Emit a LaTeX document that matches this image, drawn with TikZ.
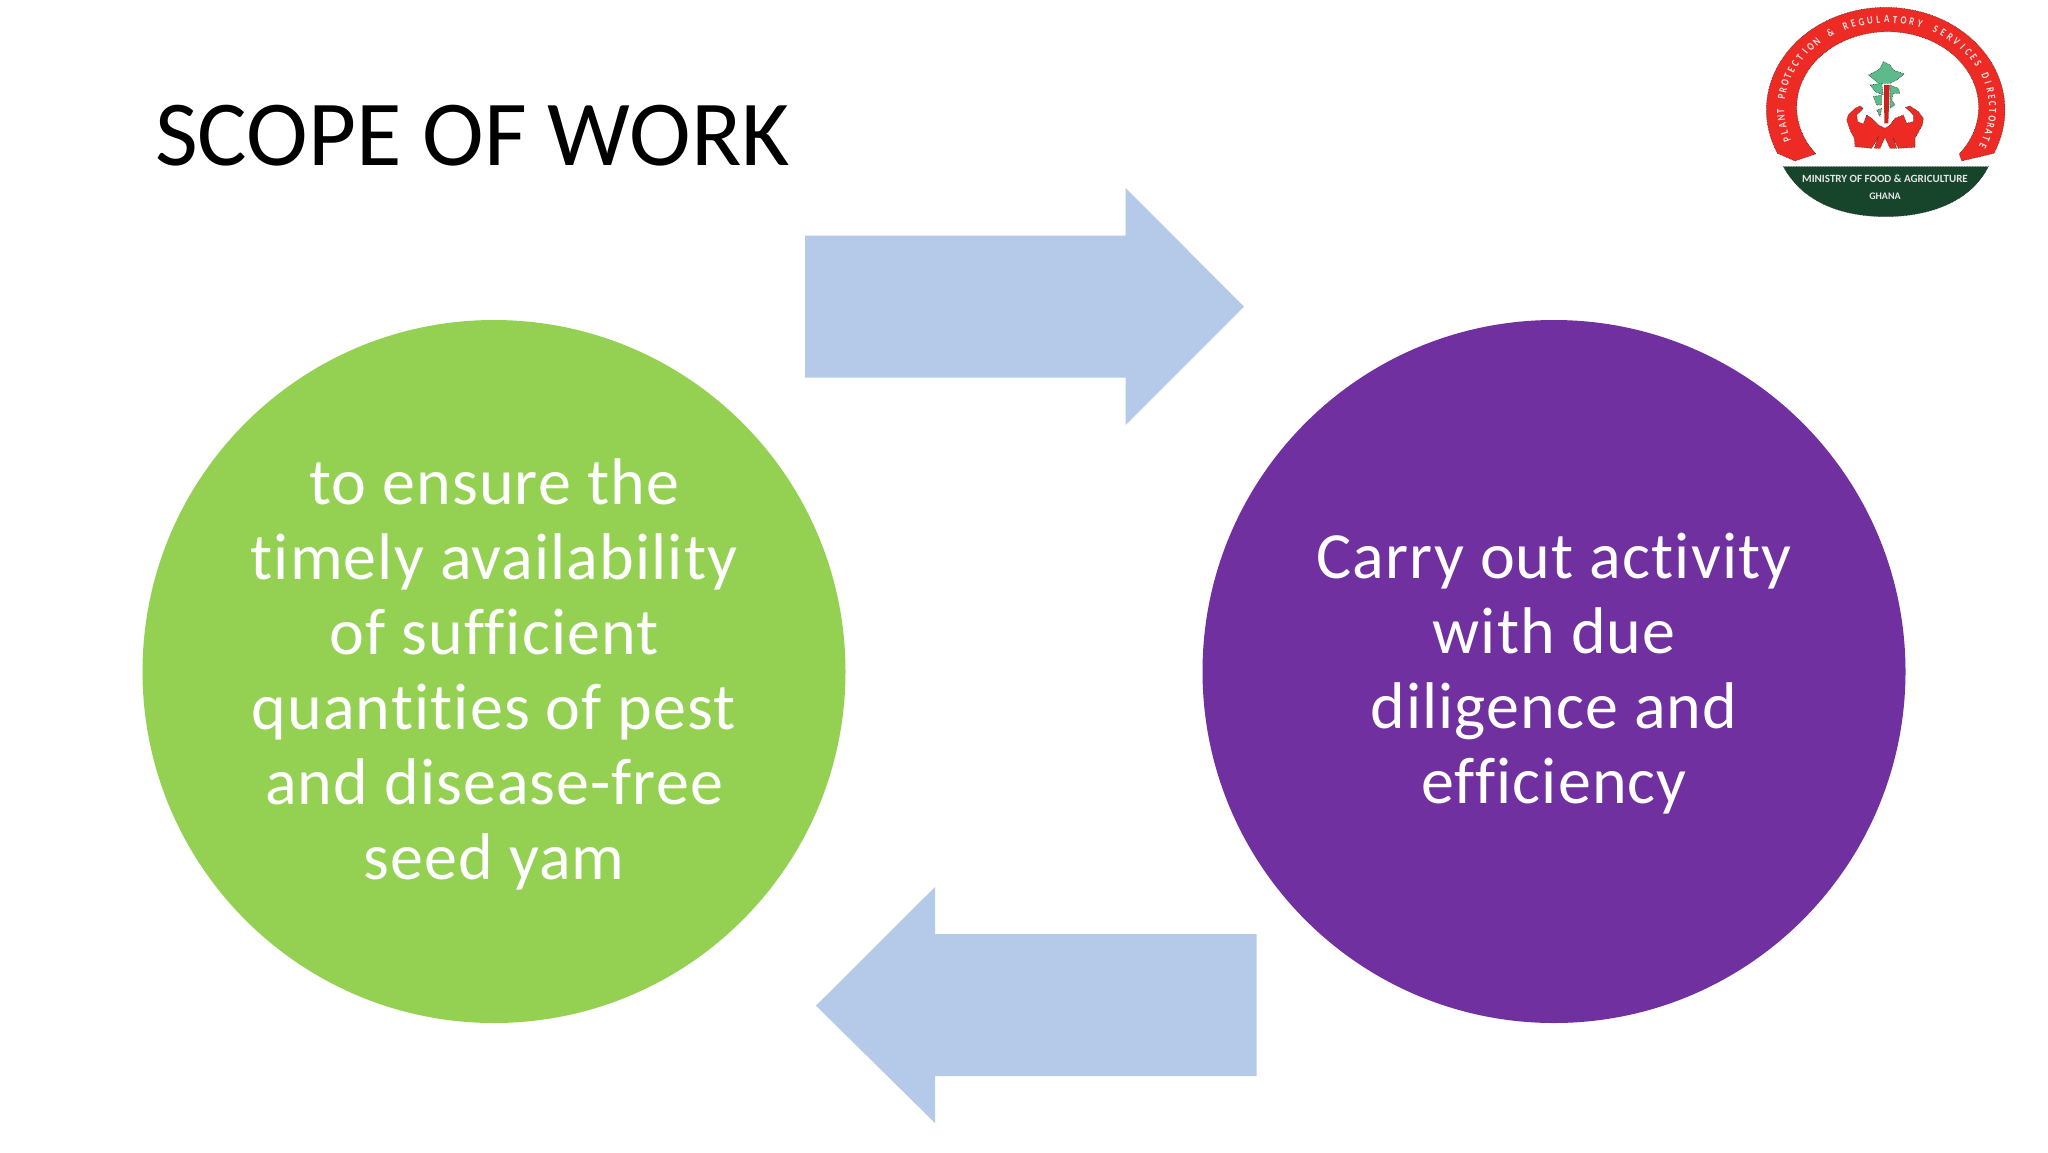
\documentclass[tikz,border=0pt]{standalone}
\usepackage{fontspec}
\setmainfont{Carlito}[Ligatures=NoCommon]
\newfontfamily\bodyfont{Carlito}[Ligatures=NoCommon,LetterSpace=1.7]
\definecolor{leafgreen}{HTML}{94D153}
\definecolor{deeppurple}{HTML}{7030A0}
\definecolor{paleblue}{HTML}{B5CAE8}
\definecolor{logored}{HTML}{EE2A24}
\definecolor{logogreen}{HTML}{17452B}
\definecolor{logoleaf}{HTML}{5DBB8B}
\tikzset{
  x=1pt,y=-1pt,
  disc/.style={circle,minimum size=703pt,inner sep=0pt},
  disctext/.style={text=white,align=center,inner sep=0pt,font=\bodyfont\fontsize{66}{75}\selectfont},
  blockarrow/.style={fill=paleblue,draw=none},
  headline/.style={anchor=west,inner sep=0pt,font=\fontsize{93}{100}\selectfont,text=black},
  logotext/.style={inner sep=0pt,font=\bfseries\fontsize{#1}{#1}\selectfont,text=black!10!white},
  speckle/.style={draw=black!80,densely dotted,line width=.6pt},
  leaf/.style={fill=logoleaf,speckle}
}
\begin{document}
\begin{tikzpicture}
\useasboundingbox (0,0) rectangle (2048,1152);
\fill[white] (0,0) rectangle (2048,1152);
\node[headline] (title) at (155,136) {SCOPE OF WORK};
\node[disc,fill=leafgreen] (goal) at (494,671.5) {};
\node[disctext] (goaltext) at (494,674) {to ensure the\\timely availability\\of sufficient\\quantities of pest\\and disease-free\\seed yam};
\node[disc,fill=deeppurple] (duty) at (1554,671.5) {};
\node[disctext] (dutytext) at (1554,674) {Carry out activity\\with due\\diligence and\\efficiency};
\fill[blockarrow] (805,235.5) -- (1125.7,235.5) -- (1125.7,188) -- (1244,306.7) -- (1125.7,425) -- (1125.7,377.7) -- (805,377.7) -- cycle;
\fill[blockarrow] (1256.5,934) -- (935,934) -- (935,887) -- (816,1005.7) -- (935,1123) -- (935,1076) -- (1256.5,1076) -- cycle;
% logo, drawn in the coordinates of a 3x crop
\begin{scope}[shift={(1740,0)},x=0.3333pt,y=-0.3333pt]
  \filldraw[fill=logored,speckle] plot[domain=205:-25,samples=70] ({437+358*cos(\x)},{330-308*sin(\x)})
     -- (665,483) -- plot[domain=-38:218,samples=70] ({443+273*cos(\x)},{322-227*sin(\x)}) -- (165,483) -- cycle;
  \foreach \c [count=\i] in {P,L,A,N,T,{},P,R,O,T,E,C,T,I,O,N,{},\&,{},R,E,G,U,L,A,T,O,R,Y,{},S,E,R,V,I,C,E,S,{},D,I,R,E,C,T,O,R,A,T,E}{
    \pgfmathsetmacro{\ang}{200-(\i-1)*220/48}
    \pgfmathsetmacro{\rot}{\ang-90}
    \node[logotext=11,rotate=\rot,xscale=.8] at ({440+318*cos(\ang)},{326-268*sin(\ang)}) {\c};
  }
  \filldraw[fill=logogreen,speckle] (130,500) -- (745,500) .. controls (690,610) and (560,650) .. (437,650) .. controls (310,650) and (190,610) .. (130,500) -- cycle;
  \node[logotext=11] (ministry) at (435,535) {MINISTRY OF FOOD \& AGRICULTURE};
  \node[logotext=10] (ghana) at (435,588) {GHANA};
  \begin{scope}[shift={(285,150)}]
    \filldraw[leaf] (145,35) -- (165,45) -- (175,60) -- (208,72) -- (185,90) -- (165,100) -- (130,100) -- (100,75) -- (120,65) -- (135,55) -- cycle;
    \filldraw[leaf] (105,105) -- (140,100) -- (145,135) -- (120,125) -- cycle;
    \filldraw[leaf] (115,140) -- (140,135) -- (140,165) -- (125,165) -- cycle;
    \filldraw[leaf] (125,180) -- (140,175) -- (135,200) -- cycle;
    \filldraw[leaf] (165,105) -- (190,115) -- (195,130) -- (175,130) -- (170,150) -- (180,165) -- (165,175) -- cycle;
    \fill[logored!85!black] (147,105) -- (164,105) -- (160,220) -- (148,220) -- cycle;
    \filldraw[fill=logored,speckle] (75,168) -- (60,175) -- (40,195) -- (35,210) -- (45,240) -- (58,265) -- (60,290) -- (110,295) -- (128,265) -- (118,295) -- (135,295) -- (150,262) -- (165,295) -- (185,295) -- (175,265) -- (190,295) -- (240,292) -- (240,265) -- (262,225) -- (265,205) -- (250,185) -- (225,168) -- (212,172) -- (235,195) -- (235,215) -- (215,220) -- (205,195) -- (180,205) -- (165,225) -- (150,235) -- (130,225) -- (110,205) -- (95,195) -- (85,222) -- (68,215) -- (65,195) -- (85,175) -- cycle;
  \end{scope}
\end{scope}
\end{tikzpicture}
\end{document}
